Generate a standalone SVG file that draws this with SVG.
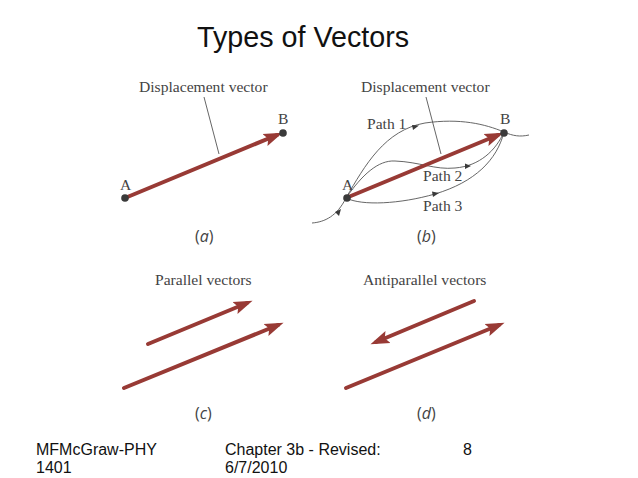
<svg xmlns="http://www.w3.org/2000/svg" width="638" height="478" viewBox="0 0 638 478">
<defs>
<marker id="red" markerUnits="userSpaceOnUse" markerWidth="24" markerHeight="18" refX="13" refY="9" orient="auto"><path d="M0 2.500L19 9L0 15.500L3.500 9Z" fill="#983a35"/></marker>
</defs>
<style>
.t{font-family:"Liberation Sans",Arial,sans-serif;fill:#111}
.b{font-size:16px}
.s{font-family:"Liberation Serif","Times New Roman",serif;font-size:15.600px;fill:#444}
.c{font-family:"Open Sans","Noto Sans",sans-serif;font-size:16px;fill:#444}
.v{fill:none;stroke:#983a35;stroke-width:4;stroke-linecap:round;marker-end:url(#red)}
.p{fill:none;stroke:#555;stroke-width:.9}
.d{fill:#3a3a3a}
</style>
<g id="title"><text class="t" x="197" y="47" font-size="28.700">Types of Vectors</text></g>
<g id="connectors">
<path class="p" d="M204 97L219 154"/>
<path class="p" d="M426 97L441 154"/>
<path class="p" d="M312 223C325 222 337 216 346 198"/>
<path class="p" d="M346 198C365 165 385 130 425 123C460 118 485 124 504 132C513 136 520 137 529 135"/>
<path class="p" d="M346 198C362 175 378 160 395 161C420 162 435 170 455 168C480 166 496 150 504 132"/>
<path class="p" d="M346 198C362 206 400 204 435 194C475 182 497 160 504 132"/>
<path class="v" d="M125 198L277 135"/>
<path class="v" d="M346 198L498 135"/>
<path class="v" d="M148 344L247 303"/>
<path class="v" d="M124 388L278 325"/>
<path class="v" d="M474 301L376 342"/>
<path class="v" d="M346 388L499 325"/>
</g>
<g id="path-arrows">
<path class="d" d="M412 125L419 125.500L413 130Z"/>
<path class="d" d="M465 163.500L471 166L465 169Z"/>
<path class="d" d="M432 191.500L439 193L433 197Z"/>
<path class="d" d="M335 212L341 209L339 216Z"/>
</g>
<g id="node-a1"><circle class="d" cx="125" cy="198" r="3.800"/><text class="s" x="120" y="190">A</text></g>
<g id="node-b1"><circle class="d" cx="283" cy="133" r="3.800"/><text class="s" x="278" y="124">B</text></g>
<g id="node-a2"><circle class="d" cx="347" cy="198" r="3.800"/><text class="s" x="342" y="190">A</text></g>
<g id="node-b2"><circle class="d" cx="504" cy="133" r="3.800"/><text class="s" x="500" y="124">B</text></g>
<g id="labels">
<text class="s" x="139" y="92">Displacement vector</text>
<text class="s" x="361" y="92">Displacement vector</text>
<text class="s" x="367" y="129">Path 1</text>
<text class="s" x="423" y="181">Path 2</text>
<text class="s" x="423" y="211">Path 3</text>
<text class="s" x="155" y="285">Parallel vectors</text>
<text class="s" x="363" y="285">Antiparallel vectors</text>
<text class="c" x="195" y="242">(<tspan font-style="italic">a</tspan>)</text>
<text class="c" x="417" y="242">(<tspan font-style="italic">b</tspan>)</text>
<text class="c" x="195" y="419">(<tspan font-style="italic">c</tspan>)</text>
<text class="c" x="417" y="419">(<tspan font-style="italic">d</tspan>)</text>
</g>
<g id="footer">
<text class="t b" x="36" y="455">MFMcGraw-PHY</text>
<text class="t b" x="36" y="473">1401</text>
<text class="t b" x="225" y="455">Chapter 3b - Revised:</text>
<text class="t b" x="225" y="473">6/7/2010</text>
<text class="t b" x="463" y="455">8</text>
</g>
</svg>
